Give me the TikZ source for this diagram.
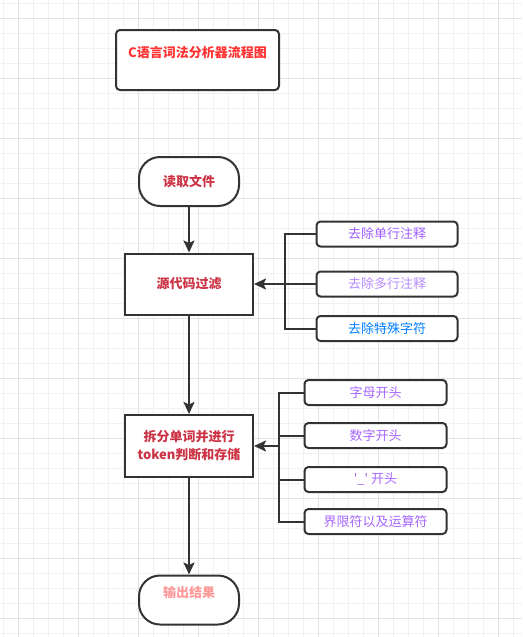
\documentclass[tikz,border=0pt]{standalone}
\usepackage{fontspec}
\newfontfamily\cjk{Noto Sans CJK SC}
\usetikzlibrary{arrows.meta}
\definecolor{gridminor}{HTML}{F1F1F1}
\definecolor{gridmajor}{HTML}{E2E2E2}
\definecolor{edge}{HTML}{333333}
\definecolor{titlered}{HTML}{FF3333}
\definecolor{crimson}{HTML}{CC3344}
\definecolor{pinkish}{HTML}{FF9999}
\definecolor{purpA}{HTML}{A060FF}
\definecolor{purpB}{HTML}{B88CFF}
\definecolor{blueA}{HTML}{007FFF}
\definecolor{purpC}{HTML}{A766FF}
\tikzset{
  base/.style={draw=edge, line width=2pt, fill=white, inner sep=0pt, font=\cjk\fontsize{13}{18}\selectfont},
  titlebox/.style={base, rounded corners=4pt, minimum width=163pt, minimum height=60pt, text=titlered, font=\cjk\bfseries\fontsize{13}{18}\selectfont, text depth=17pt},
  term/.style={base, rounded corners=21pt, minimum width=100pt, minimum height=49pt, font=\cjk\bfseries\fontsize{13}{18}\selectfont},
  procbox/.style={base, minimum width=128pt, minimum height=61pt, text=crimson, align=center, font=\cjk\bfseries\fontsize{13}{18}\selectfont},
  sidebox/.style={base, rounded corners=4pt, minimum width=141pt, minimum height=25pt},
  wire/.style={draw=edge, line width=2pt},
  arrowline/.style={wire, -{Stealth[length=12pt,width=11pt,inset=2.5pt]}},
}
\begin{document}
\begin{tikzpicture}[x=1pt,y=-1pt]
\useasboundingbox (0,0) rectangle (522,637);
\fill[white] (0,0) rectangle (522,637);
% grid
\foreach \i in {3,18,...,522} \draw[gridminor, line width=0.9pt] (\i,0) -- (\i,637);
\foreach \i in {3,18,...,637} \draw[gridminor, line width=0.9pt] (0,\i) -- (522,\i);
\foreach \i in {18,78,...,522} \draw[gridmajor, line width=0.9pt] (\i,0) -- (\i,637);
\foreach \i in {18,78,...,637} \draw[gridmajor, line width=0.9pt] (0,\i) -- (522,\i);

\node[titlebox] (title) at (197.5,60) {C语言词法分析器流程图};
\node[term, text=crimson] (read) at (189,181.5) {读取文件};
\node[procbox] (filter) at (189,284) {源代码过滤};
\node[sidebox, text=purpA] (r1) at (387,234) {去除单行注释};
\node[sidebox, text=purpB] (r2) at (387,284) {去除多行注释};
\node[sidebox, text=blueA] (r3) at (387,328.5) {去除特殊字符};
\node[procbox, minimum height=62pt] (split) at (189,446) {拆分单词并进行\\token判断和存储};
\node[sidebox, minimum width=142pt, text=purpC] (s1) at (375.5,392.5) {字母开头};
\node[sidebox, minimum width=142pt, text=purpC] (s2) at (375.5,435.5) {数字开头};
\node[sidebox, minimum width=142pt, text=purpC] (s3) at (375.5,479.5) {'\_' 开头};
\node[sidebox, minimum width=142pt, text=purpC] (s4) at (375.5,521.5) {界限符以及运算符};
\node[term, text=pinkish, text depth=16pt] (out) at (189,600) {输出结果};

\coordinate (ja) at (285,234);
\coordinate (jb) at (285,328.5);
\coordinate (jc) at (279,392.5);
\coordinate (jd) at (279,521.5);
\coordinate (je) at (279,446);

\draw[arrowline] (read) -- (filter);
\draw[arrowline] (filter) -- (split);
\draw[arrowline] (split) -- (out);

\draw[wire] (r1.west) -- (ja) -- (jb) -- (r3.west);
\draw[arrowline] (r2.west) -- (r2.west -| filter.east);

\draw[wire] (s1.west) -- (jc) -- (jd) -- (s4.west);
\draw[wire] (s2.west) -- (s2.west -| jc);
\draw[wire] (s3.west) -- (s3.west -| jc);
\draw[arrowline] (je) -- (split.east);
\end{tikzpicture}
\end{document}
